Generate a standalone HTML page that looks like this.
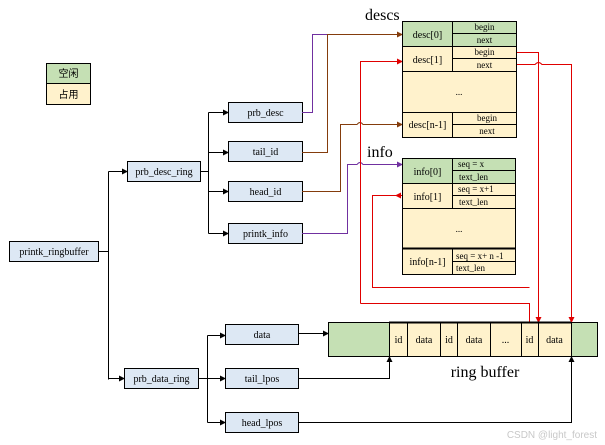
<!DOCTYPE html>
<html><head><meta charset="utf-8"><style>
html,body{margin:0;padding:0;background:#fff;}
svg{display:block;}
text{font-family:"Liberation Serif","Noto Serif CJK SC",serif;font-size:10px;fill:#000;}
.b{fill:#dde8f4;stroke:#000;stroke-width:1;}
.g{fill:#c5e0b4;stroke:#000;stroke-width:1;}
.y{fill:#fff2cc;stroke:#000;stroke-width:1;}
.k{stroke:#000;fill:none;stroke-width:1;}
.r{stroke:#e00000;fill:none;stroke-width:1;}
.br{stroke:#843c0c;fill:none;stroke-width:1;}
.p{stroke:#7030a0;fill:none;stroke-width:1;}
</style></head><body>
<svg width="605" height="445" viewBox="0 0 605 445" xmlns="http://www.w3.org/2000/svg">
<defs>
<marker id="ak" markerWidth="6" markerHeight="6" refX="5" refY="3" orient="auto" markerUnits="userSpaceOnUse"><path d="M0,0 L6,3 L0,6z" fill="#000"/></marker>
<marker id="ar" markerWidth="6" markerHeight="6" refX="5" refY="3" orient="auto" markerUnits="userSpaceOnUse"><path d="M0,0 L6,3 L0,6z" fill="#e00000"/></marker>
<marker id="abr" markerWidth="6" markerHeight="6" refX="5" refY="3" orient="auto" markerUnits="userSpaceOnUse"><path d="M0,0 L6,3 L0,6z" fill="#843c0c"/></marker>
<marker id="ap" markerWidth="6" markerHeight="6" refX="5" refY="3" orient="auto" markerUnits="userSpaceOnUse"><path d="M0,0 L6,3 L0,6z" fill="#7030a0"/></marker>
</defs>

<!-- legend -->
<rect class="g" x="46.5" y="63.5" width="44" height="20"/>
<rect class="y" x="46.5" y="83.5" width="44" height="21"/>
<text x="68.5" y="77" text-anchor="middle" style="font-family:'Noto Sans CJK SC',sans-serif">空闲</text>
<text x="68.5" y="98" text-anchor="middle" style="font-family:'Noto Sans CJK SC',sans-serif">占用</text>

<!-- tree lines -->
<path class="k" d="M99,251.5 H108.5 M108.5,171.5 V379.5"/>
<path class="k" d="M108.5,171.5 H127" marker-end="url(#ak)"/>
<path class="k" d="M108.5,378.5 H124" marker-end="url(#ak)"/>
<path class="k" d="M200,171.5 H208.5 M208.5,112.5 V233.5"/>
<path class="k" d="M208.5,112.5 H228" marker-end="url(#ak)"/>
<path class="k" d="M208.5,152.5 H228" marker-end="url(#ak)"/>
<path class="k" d="M208.5,191.5 H228" marker-end="url(#ak)"/>
<path class="k" d="M208.5,233.5 H228" marker-end="url(#ak)"/>
<path class="k" d="M199,378.5 H207.5 M207.5,335.5 V422.5"/>
<path class="k" d="M207.5,335.5 H225" marker-end="url(#ak)"/>
<path class="k" d="M207.5,378.5 H225" marker-end="url(#ak)"/>
<path class="k" d="M207.5,422.5 H225" marker-end="url(#ak)"/>

<!-- boxes -->
<rect class="b" x="9.5" y="241.5" width="89" height="20"/><text x="54" y="255" text-anchor="middle">printk_ringbuffer</text>
<rect class="b" x="127.5" y="161.5" width="73" height="20"/><text x="164" y="175" text-anchor="middle">prb_desc_ring</text>
<rect class="b" x="228.5" y="102.5" width="74" height="20"/><text x="265.5" y="116" text-anchor="middle">prb_desc</text>
<rect class="b" x="228.5" y="141.5" width="74" height="20"/><text x="265.5" y="155" text-anchor="middle">tail_id</text>
<rect class="b" x="228.5" y="181.5" width="74" height="20"/><text x="265.5" y="195" text-anchor="middle">head_id</text>
<rect class="b" x="228.5" y="223.5" width="74" height="20"/><text x="265.5" y="237" text-anchor="middle">printk_info</text>
<rect class="b" x="124.5" y="368.5" width="74" height="20"/><text x="161.5" y="382" text-anchor="middle">prb_data_ring</text>
<rect class="b" x="225.5" y="324.5" width="73" height="20"/><text x="262" y="338" text-anchor="middle">data</text>
<rect class="b" x="225.5" y="368.5" width="73" height="20"/><text x="262" y="382" text-anchor="middle">tail_lpos</text>
<rect class="b" x="225.5" y="412.5" width="73" height="20"/><text x="262" y="426" text-anchor="middle">head_lpos</text>

<!-- connectors to tables -->
<path class="p" d="M302,112.5 H312.5 V34.5 H327"/>
<path class="br" d="M302,152.5 H327.5 V34.5 H402" marker-end="url(#abr)"/>
<path class="br" d="M302,191.5 H340.5 V124.5 H357 q3,-4 6,0 H402" marker-end="url(#abr)"/>
<path class="p" d="M302,233.5 H347.5 V164.5 H357 q3,-4 6,0 H402" marker-end="url(#ap)"/>

<!-- red -->
<path class="r" d="M360.5,303.5 V61.5 H402" marker-end="url(#ar)"/>
<path class="r" d="M360.5,303.5 H529.5 V322"/>
<path class="r" d="M402,195.5 H372.5 V287.5 H529.5"/>
<path class="r" d="M402,195.5 H396" marker-end="url(#ar)"/>
<path class="r" d="M516,52.5 H538.5 V322" marker-end="url(#ar)"/>
<path class="r" d="M516,64.5 H535 q3.5,-4 7,0 H571.5 V322" marker-end="url(#ar)"/>

<!-- descs table -->
<text x="365" y="20" style="font-size:16px">descs</text>
<rect class="g" x="402.5" y="21.5" width="114" height="25"/>
<rect class="y" x="402.5" y="46.5" width="114" height="91"/>
<path class="k" d="M452.5,21.5 V71.5 M452.5,112.5 V137.5 M452.5,33.5 H516.5 M402.5,46.5 H516.5 M452.5,58.5 H516.5 M402.5,71.5 H516.5 M402.5,112.5 H516.5 M452.5,124.5 H516.5"/>
<text x="427.5" y="38" text-anchor="middle">desc[0]</text>
<text x="427.5" y="63" text-anchor="middle">desc[1]</text>
<text x="427.5" y="128" text-anchor="middle">desc[n-1]</text>
<text x="484.5" y="30" text-anchor="middle" style="font-size:9px">begin</text>
<text x="484.5" y="43" text-anchor="middle" style="font-size:9px">next</text>
<text x="484.5" y="55" text-anchor="middle" style="font-size:9px">begin</text>
<text x="484.5" y="68" text-anchor="middle" style="font-size:9px">next</text>
<text x="459" y="95" text-anchor="middle" style="font-size:9px">...</text>
<text x="487" y="121" text-anchor="middle" style="font-size:9px">begin</text>
<text x="487" y="134" text-anchor="middle" style="font-size:9px">next</text>

<!-- info table -->
<text x="367" y="157" style="font-size:16px">info</text>
<rect class="g" x="402.5" y="158.5" width="113" height="25"/>
<rect class="y" x="402.5" y="183.5" width="113" height="91"/>
<path class="k" d="M452.5,158.5 V208.5 M452.5,248.5 V274.5 M452.5,170.5 H515.5 M402.5,183.5 H515.5 M452.5,195.5 H515.5 M402.5,208.5 H515.5 M452.5,261.5 H515.5"/>
<path d="M402.5,248.5 H515.5" stroke="#000" stroke-width="2"/>
<text x="427.5" y="175" text-anchor="middle">info[0]</text>
<text x="427.5" y="200" text-anchor="middle">info[1]</text>
<text x="427.5" y="265" text-anchor="middle">info[n-1]</text>
<text x="458" y="167" style="font-size:9px">seq = x</text>
<text x="459" y="180" style="font-size:9px">text_len</text>
<text x="458" y="192" style="font-size:9px">seq = x+1</text>
<text x="459" y="205" style="font-size:9px">text_len</text>
<text x="459" y="232" text-anchor="middle" style="font-size:9px">...</text>
<text x="456" y="259" style="font-size:9px">seq = x+ n -1</text>
<text x="456" y="271" style="font-size:9px">text_len</text>

<!-- ring buffer -->
<rect class="g" x="328.5" y="322.5" width="269" height="34"/>
<rect class="y" x="389.5" y="322.5" width="182" height="34"/>
<path class="k" d="M407.5,322.5 V356.5 M440.5,322.5 V356.5 M457.5,322.5 V356.5 M490.5,322.5 V356.5 M521.5,322.5 V356.5 M538.5,322.5 V356.5 M571.5,322.5 V356.5"/>
<path d="M389,322.5 H571" stroke="#000" stroke-width="2"/>
<text x="398.5" y="343" text-anchor="middle">id</text>
<text x="424" y="343" text-anchor="middle">data</text>
<text x="449" y="343" text-anchor="middle">id</text>
<text x="474" y="343" text-anchor="middle">data</text>
<text x="505.5" y="343" text-anchor="middle">...</text>
<text x="529.5" y="343" text-anchor="middle">id</text>
<text x="554.5" y="343" text-anchor="middle">data</text>
<text x="485" y="377" text-anchor="middle" style="font-size:16px">ring buffer</text>

<path class="k" d="M298,333.5 H328" marker-end="url(#ak)"/>
<path class="k" d="M298,378.5 H389.5 V357" marker-end="url(#ak)"/>
<path class="k" d="M298,422.5 H571.5 V357" marker-end="url(#ak)"/>

<text x="597" y="438" text-anchor="end" style="font-family:'Liberation Sans',sans-serif;font-size:10px;fill:#c8c8c8">CSDN @light_forest</text>
</svg>
</body></html>
